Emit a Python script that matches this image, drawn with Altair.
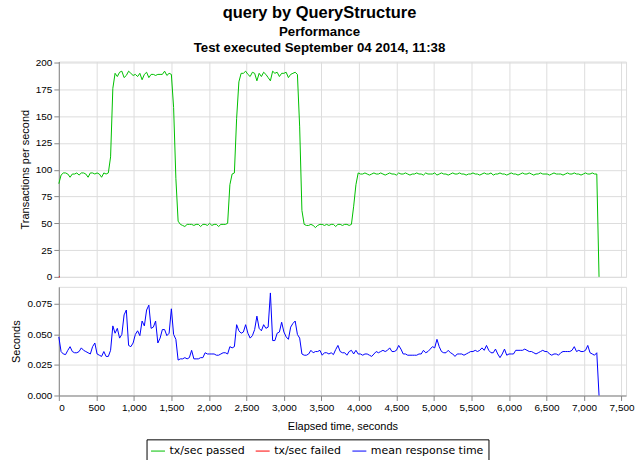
import altair as alt
import pandas as pd

# sample times (seconds), one sample every 30 s
times = list(range(0, 7201, 30))

tps_passed = [
    87, 95, 97, 97, 96, 93, 96, 96, 97, 95,
    97, 97, 96, 93, 97, 97, 96, 97, 96, 93,
    97, 96, 97, 112, 176, 190, 187, 191, 192, 186,
    188, 192, 190, 188, 189, 187, 190, 184, 189, 191,
    186, 189, 189, 188, 189, 189, 189, 192, 188, 190,
    189, 158, 92, 52, 49, 48, 47, 49, 49, 49,
    48, 49, 49, 47, 49, 49, 48, 50, 48, 49,
    49, 47, 49, 49, 49, 50, 86, 96, 97, 148,
    182, 190, 190, 192, 189, 187, 191, 190, 183, 190,
    187, 191, 189, 186, 183, 192, 190, 191, 187, 190,
    190, 191, 186, 189, 190, 191, 189, 140, 62, 49,
    48, 48, 49, 48, 46, 48, 49, 49, 48, 49,
    48, 49, 49, 47, 49, 49, 48, 49, 49, 48,
    49, 66, 86, 97, 96, 96, 97, 96, 95, 96,
    97, 96, 96, 97, 96, 95, 96, 97, 96, 96,
    95, 97, 96, 96, 97, 96, 95, 96, 96, 97,
    96, 96, 95, 97, 96, 96, 96, 97, 95, 96,
    97, 96, 96, 95, 96, 97, 96, 96, 97, 96,
    96, 95, 96, 96, 97, 96, 96, 95, 96, 97,
    96, 96, 97, 95, 96, 96, 97, 96, 96, 95,
    96, 97, 96, 96, 95, 96, 97, 96, 96, 97,
    96, 95, 96, 96, 97, 96, 96, 96, 95, 96,
    97, 96, 96, 96, 95, 96, 97, 96, 96, 97,
    96, 96, 95, 96, 97, 96, 96, 97, 96, 96,
    0,
]

failed_times = [0, 15]
tps_failed = [0, 0]

mean_response = [
    0.048, 0.036, 0.034, 0.0335, 0.037, 0.040, 0.036, 0.035, 0.035, 0.036,
    0.039, 0.037, 0.036, 0.035, 0.034, 0.040, 0.043, 0.034, 0.033, 0.032,
    0.036, 0.032, 0.032, 0.037, 0.057, 0.051, 0.055, 0.047, 0.050, 0.066,
    0.070, 0.041, 0.040, 0.043, 0.050, 0.053, 0.049, 0.061, 0.057, 0.070,
    0.074, 0.055, 0.056, 0.061, 0.043, 0.047, 0.054, 0.054, 0.049, 0.051,
    0.071, 0.050, 0.046, 0.029, 0.030, 0.030, 0.031, 0.030, 0.031, 0.037,
    0.030, 0.030, 0.030, 0.031, 0.031, 0.035, 0.034, 0.034, 0.034, 0.034,
    0.033, 0.033, 0.034, 0.035, 0.035, 0.034, 0.040, 0.039, 0.040, 0.058,
    0.053, 0.051, 0.052, 0.058, 0.051, 0.047, 0.049, 0.054, 0.065, 0.055,
    0.053, 0.058, 0.055, 0.056, 0.084, 0.045, 0.045, 0.051, 0.052, 0.060,
    0.052, 0.048, 0.046, 0.056, 0.059, 0.061, 0.050, 0.047, 0.034, 0.033,
    0.033, 0.034, 0.037, 0.035, 0.036, 0.036, 0.037, 0.033, 0.035, 0.035,
    0.034, 0.035, 0.0335, 0.0376, 0.041, 0.036, 0.035, 0.035, 0.033, 0.036,
    0.037, 0.034, 0.037, 0.034, 0.034, 0.033, 0.034, 0.034, 0.033, 0.032,
    0.034, 0.036, 0.035, 0.036, 0.037, 0.036, 0.037, 0.039, 0.036, 0.036,
    0.037, 0.041, 0.038, 0.034, 0.034, 0.033, 0.033, 0.033, 0.033, 0.033,
    0.034, 0.034, 0.037, 0.035, 0.036, 0.038, 0.040, 0.039, 0.046, 0.040,
    0.036, 0.035, 0.035, 0.037, 0.035, 0.034, 0.032, 0.034, 0.034, 0.034,
    0.033, 0.034, 0.035, 0.036, 0.036, 0.037, 0.036, 0.037, 0.039, 0.037,
    0.041, 0.037, 0.035, 0.035, 0.038, 0.034, 0.031, 0.034, 0.038, 0.033,
    0.034, 0.034, 0.034, 0.037, 0.037, 0.037, 0.037, 0.038, 0.037, 0.036,
    0.036, 0.035, 0.034, 0.035, 0.036, 0.037, 0.036, 0.036, 0.034, 0.033,
    0.034, 0.034, 0.033, 0.035, 0.036, 0.036, 0.036, 0.036, 0.037, 0.040,
    0.036, 0.037, 0.036, 0.036, 0.037, 0.041, 0.035, 0.034, 0.033, 0.035,
    0.0,
]

assert len(tps_passed) == len(times) and len(mean_response) == len(times)

series_names = ["tx/sec passed", "tx/sec failed", "mean response time"]
series_colors = ["#00c000", "#ff0000", "#0000ff"]

x_ticks = list(range(0, 7501, 500))
tps_ticks = [0, 25, 50, 75, 100, 125, 150, 175, 200]
sec_ticks = [0.0, 0.025, 0.05, 0.075]

df_top = pd.DataFrame({
    "t": times + failed_times,
    "v": tps_passed + tps_failed,
    "s": [series_names[0]] * len(times) + [series_names[1]] * len(failed_times),
})
df_bot = pd.DataFrame({
    "t": times,
    "v": mean_response,
    "s": [series_names[2]] * len(times),
})

color = alt.Color(
    "s:N",
    scale=alt.Scale(domain=series_names, range=series_colors),
    legend=alt.Legend(
        title=None,
        orient="none",
        legendX=88,
        legendY=379,
        direction="horizontal",
        symbolType="stroke",
        symbolSize=196,
        symbolStrokeWidth=1,
        strokeColor="black",
        fillColor="white",
        padding=4,
        columnPadding=8,
        labelOffset=4,
        labelFont="DejaVu Sans",
        labelFontSize=11,
        labelColor="black",
    ),
)

xscale = alt.Scale(domain=[0, 7560], nice=False, zero=False)

top = alt.Chart(df_top).mark_line(strokeWidth=1).encode(
    x=alt.X("t:Q", scale=xscale,
            axis=alt.Axis(values=x_ticks, labels=False, ticks=False,
                          domain=False, title=None, grid=True)),
    y=alt.Y("v:Q", scale=alt.Scale(domain=[0, 201], nice=False),
            axis=alt.Axis(values=tps_ticks, title="Transactions per second",
                          titlePadding=5, titleFontWeight="normal")),
    color=color,
).properties(width=569, height=216)

bottom = alt.Chart(df_bot).mark_line(strokeWidth=1).encode(
    x=alt.X("t:Q", scale=xscale,
            axis=alt.Axis(values=x_ticks, format=",d",
                          title="Elapsed time, seconds", titlePadding=8,
                          titleFontWeight="normal")),
    y=alt.Y("v:Q", scale=alt.Scale(domain=[0, 0.089], nice=False),
            axis=alt.Axis(values=sec_ticks, format=".3f", title="Seconds",
                          titlePadding=5, titleFontWeight="normal")),
    color=color,
).properties(width=569, height=109)

chart = alt.vconcat(top, bottom, spacing=10, bounds="flush").properties(
    title=alt.Title(
        text="query by QueryStructure",
        subtitle=["Performance", "Test executed September 04 2014, 11:38"],
        font="Liberation Sans",
        fontSize=16.5,
        fontWeight="bold",
        color="black",
        subtitleFont="Liberation Sans",
        subtitleFontSize=13.3,
        subtitleFontWeight="bold",
        subtitleColor="black",
        subtitleLineHeight=16,
        subtitlePadding=3,
        anchor="middle",
        dx=-3,
        offset=3,
    ),
    padding={"left": 10, "top": 4, "right": 5, "bottom": 5},
).configure_view(
    stroke="#808080", strokeWidth=1
).configure_axis(
    labelFont="DejaVu Sans",
    labelFontSize=10,
    labelColor="black",
    labelPadding=2,
    tickColor="#808080",
    tickSize=2,
    domainColor="#808080",
    domainWidth=2,
    gridColor="#b8b8b8",
    gridDash=[2, 2],
    gridWidth=1,
    titleFont="DejaVu Sans",
    titleFontSize=11.5,
    titleFontWeight="normal",
    titleColor="black",
).configure(background="white")

chart.save("out.html", embed_options={"renderer": "svg", "actions": False})
